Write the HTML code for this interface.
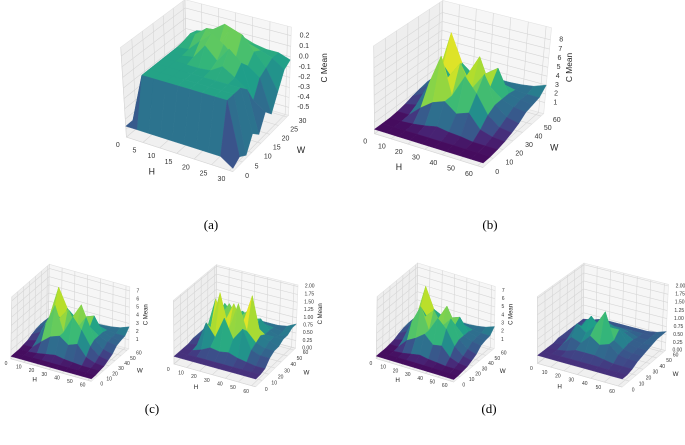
<!DOCTYPE html>
<html><head><meta charset="utf-8">
<style>
html,body{margin:0;padding:0;background:#fff;}
svg{display:block;font-family:"Liberation Sans",sans-serif;}
.cap{font-family:"Liberation Serif",serif;}
</style></head>
<body>
<svg id="fig" width="685" height="445" viewBox="0 0 685 445" xmlns="http://www.w3.org/2000/svg">
<text class="cap" x="211" y="229" font-size="13" text-anchor="middle">(a)</text>
<text class="cap" x="490" y="229" font-size="13" text-anchor="middle">(b)</text>
<text class="cap" x="152" y="413" font-size="13" text-anchor="middle">(c)</text>
<text class="cap" x="489" y="413" font-size="13" text-anchor="middle">(d)</text>
</svg>
<script>
// ---- data: C Mean height grids (rows = W index, cols = H index) ----
const gridA = [
[-0.47,-0.47,-0.47,-0.47,-0.47,-0.47,-0.47,-0.47,-0.47,-0.55],
[-0.47,0.0,0.0,0.0,0.0,0.0,0.0,0.0,0.0,-0.5],
[-0.47,0.0,0.0,0.0,0.0,0.0,0.0,0.0,0.0,-0.55],
[-0.47,0.0,0.0,0.0,0.0,0.0,0.0,0.0,0.0,-0.4],
[-0.47,0.0,0.0,0.0,0.0,0.01,0.08,0.01,-0.07,-0.47],
[-0.47,0.0,0.0,0.02,0.16,0.05,0.19,0.09,-0.23,-0.31],
[-0.47,0.0,0.01,0.12,0.22,0.15,0.05,0.01,-0.07,-0.39],
[-0.47,0.01,0.1,0.19,0.05,0.25,0.22,0.09,-0.03,-0.23],
[-0.47,0.03,0.07,0.13,0.21,0.17,0.09,0.05,0.01,-0.07],
[-0.47,0.01,0.03,0.05,0.09,0.07,0.03,0.01,0.01,-0.03]];
const gridB = [
[0.2,0.2,0.2,0.2,0.2,0.2,0.2,0.2,0.2,0.2],
[0.2,0.2,0.2,0.2,0.2,0.2,0.2,0.2,0.2,0.2],
[0.2,0.2,0.3,0.5,0.8,0.6,0.5,0.3,0.3,0.3],
[0.3,0.3,1.5,2.5,3.0,2.0,2.5,1.0,0.6,0.5],
[0.5,0.8,3.5,7.0,3.0,5.5,4.0,2.0,1.0,0.8],
[0.8,1.5,2.5,4.0,6.0,3.5,5.5,2.5,1.5,1.2],
[1.0,2.0,4.5,3.0,4.0,6.5,3.5,2.5,2.0,1.8],
[1.2,2.5,7.5,4.5,3.5,4.0,5.0,2.5,2.2,2.0],
[1.2,2.2,3.0,3.0,2.8,2.8,2.6,2.3,2.2,2.2],
[1.0,2.0,2.2,2.2,2.2,2.2,2.2,2.3,2.5,3.0]];
const gridC1 = [
[0.2,0.2,0.2,0.2,0.2,0.2,0.2,0.2,0.2,0.2],
[0.2,0.2,0.2,0.2,0.2,0.2,0.2,0.2,0.2,0.2],
[0.2,0.2,0.3,0.5,0.7,0.5,0.4,0.3,0.3,0.3],
[0.3,0.3,1.3,2.2,2.6,1.8,2.2,0.9,0.5,0.4],
[0.4,0.7,3.0,5.6,2.6,4.8,3.5,1.8,0.9,0.7],
[0.7,1.3,2.2,3.5,5.0,3.0,4.6,2.2,1.3,1.0],
[0.9,1.8,3.9,2.6,3.5,5.4,3.0,2.2,1.8,1.6],
[1.0,2.2,6.2,3.9,3.0,3.5,3.9,2.2,1.9,1.8],
[1.0,1.9,2.6,2.6,2.4,2.4,2.3,2.0,1.9,1.9],
[0.9,1.8,1.9,1.9,1.9,1.9,1.9,2.0,2.2,2.6]];
const gridC2 = [
[0.25,0.25,0.25,0.25,0.25,0.25,0.25,0.25,0.25,0.25],
[0.25,0.25,0.25,0.25,0.25,0.25,0.25,0.25,0.25,0.25],
[0.25,0.25,0.35,0.5,0.45,0.5,0.4,0.35,0.3,0.3],
[0.25,0.3,1.1,0.7,1.4,0.8,1.2,0.6,0.5,0.5],
[0.3,0.4,0.8,2.0,0.9,1.8,1.0,0.7,0.6,0.6],
[0.3,0.5,1.6,0.9,1.6,1.0,2.0,0.8,0.7,0.6],
[0.3,0.6,0.9,1.4,1.0,1.3,0.9,0.7,0.7,0.7],
[0.3,0.6,1.2,0.9,1.1,0.9,1.0,0.7,0.6,0.7],
[0.3,0.55,0.7,0.7,0.7,0.7,0.7,0.65,0.6,0.8],
[0.3,0.5,0.6,0.6,0.6,0.6,0.6,0.6,0.65,0.8]];
const gridD1 = [
[0.2,0.2,0.2,0.2,0.2,0.2,0.2,0.2,0.2,0.2],
[0.2,0.2,0.2,0.2,0.2,0.2,0.2,0.2,0.2,0.2],
[0.2,0.2,0.3,0.5,0.7,0.5,0.4,0.3,0.3,0.3],
[0.3,0.3,1.4,2.0,2.8,1.8,2.0,0.9,0.5,0.4],
[0.4,0.7,3.2,5.4,2.8,4.6,3.6,1.8,0.9,0.7],
[0.7,1.3,2.0,3.7,4.8,3.2,4.4,2.2,1.3,1.0],
[0.9,1.8,4.1,2.8,3.3,5.2,3.2,2.2,1.8,1.6],
[1.0,2.2,6.2,3.7,3.2,3.3,3.7,2.2,1.9,1.8],
[1.0,1.9,2.6,2.6,2.4,2.4,2.3,2.0,1.9,1.9],
[0.9,1.8,1.9,1.9,1.9,1.9,1.9,2.0,2.2,2.6]];
const gridD2 = [
[0.25,0.25,0.25,0.25,0.25,0.25,0.25,0.25,0.25,0.25],
[0.25,0.25,0.25,0.25,0.25,0.25,0.25,0.25,0.25,0.25],
[0.25,0.25,0.3,0.4,0.4,0.4,0.35,0.3,0.3,0.3],
[0.25,0.3,0.6,0.5,0.8,0.6,0.7,0.45,0.4,0.4],
[0.3,0.35,0.9,0.7,1.0,1.5,0.7,0.5,0.45,0.45],
[0.3,0.4,0.7,1.1,0.8,0.9,0.9,0.55,0.5,0.5],
[0.3,0.4,0.8,0.7,0.9,0.8,0.7,0.55,0.5,0.55],
[0.3,0.45,0.6,0.65,0.6,0.65,0.6,0.5,0.5,0.6],
[0.3,0.4,0.5,0.5,0.5,0.5,0.5,0.5,0.5,0.6],
[0.3,0.35,0.45,0.45,0.45,0.45,0.45,0.45,0.5,0.6]];
// ---- tick labels ----
const ticksHA = [0,5,10,15,20,25,30];
const ticksHB = [0,10,20,30,40,50,60];
const ticksZA = [-0.5,-0.4,-0.3,-0.2,-0.1,0.0,0.1,0.2];
const ticksZB = [1,2,3,4,5,6,7,8];
const ticksZC = [1,2,3,4,5,6,7];
const ticksZC2 = [0.00,0.25,0.50,0.75,1.00,1.25,1.50,1.75,2.00];

const NS="http://www.w3.org/2000/svg";
const svg=document.getElementById('fig');
function mk(tag,attrs,parent){const e=document.createElementNS(NS,tag);for(const k in attrs)e.setAttribute(k,attrs[k]);(parent||svg).appendChild(e);return e;}
const VIR=[[68,1,84],[72,40,120],[62,74,137],[49,104,142],[38,130,142],[31,158,137],[53,183,121],[110,206,88],[181,222,43],[253,231,37]];
function viridis(t){t=Math.max(0,Math.min(1,t))*(VIR.length-1);const i=Math.min(VIR.length-2,Math.floor(t)),f=t-i;const a=VIR[i],b=VIR[i+1];return 'rgb('+[0,1,2].map(k=>Math.round(a[k]+(b[k]-a[k])*f)).join(',')+')';}

function solve(A,b){const n=b.length;A=A.map((r,i)=>r.concat([b[i]]));
  for(let i=0;i<n;i++){let p=i;for(let r=i+1;r<n;r++)if(Math.abs(A[r][i])>Math.abs(A[p][i]))p=r;[A[i],A[p]]=[A[p],A[i]];
    for(let r=0;r<n;r++){if(r===i)continue;const f=A[r][i]/A[i][i];for(let c=i;c<=n;c++)A[r][c]-=f*A[i][c];}}
  return A.map((r,i)=>r[n]/r[i]);}
function depthF(u,v,w,k){const d=0.75*(v-0.5)-0.433*(u-0.5)-0.5*(w-0.5);return 1/(1+k*d);}
function fitProj(cal){
  let best=null;
  for(let k=0;k<=1.2001;k+=0.05){
    let err=0;const sol=[];
    for(const axis of [3,4]){
      const rows=cal.map(c=>{const f=depthF(c[0],c[1],c[2],k);return [1,f*(c[0]-0.5),f*(c[1]-0.5),f*(c[2]-0.5)];});
      const AtA=[0,1,2,3].map(i=>[0,1,2,3].map(j=>rows.reduce((s,r)=>s+r[i]*r[j],0)));
      const Atb=[0,1,2,3].map(i=>rows.reduce((s,r,n)=>s+r[i]*cal[n][axis],0));
      const p=solve(AtA,Atb);sol.push(p);
      rows.forEach((r,n)=>{const e=r[0]*p[0]+r[1]*p[1]+r[2]*p[2]+r[3]*p[3]-cal[n][axis];err+=e*e;});
    }
    if(!best||err<best.err)best={err,k,sx:sol[0],sy:sol[1]};
  }
  return (u,v,w)=>{const f=depthF(u,v,w,best.k);const a=u-0.5,b=v-0.5,c=w-0.5;
    return [best.sx[0]+f*(a*best.sx[1]+b*best.sx[2]+c*best.sx[3]), best.sy[0]+f*(a*best.sy[1]+b*best.sy[2]+c*best.sy[3])];};
}

function panel(c){
  const g=mk('g',{});
  
  
  const P=fitProj(c.cal);
  const zN=z=>(z-c.zmin)/(c.zmax-c.zmin);
  const hN=h=>h/c.hmax;
  const pts=a=>a.map(p=>p[0].toFixed(1)+','+p[1].toFixed(1)).join(' ');
  mk('polygon',{points:pts([P(0,0,0),P(1,0,0),P(1,1,0),P(0,1,0)]),fill:'#f0f0f0',stroke:'#e2e2e2','stroke-width':0.6,},g);
  mk('polygon',{points:pts([P(0,1,0),P(1,1,0),P(1,1,1),P(0,1,1)]),fill:'#f6f6f6',stroke:'#e2e2e2','stroke-width':0.6,},g);
  mk('polygon',{points:pts([P(0,0,0),P(0,1,0),P(0,1,1),P(0,0,1)]),fill:'#eeeeee',stroke:'#e2e2e2','stroke-width':0.6,},g);
  const gl={stroke:'#d6d6d6','stroke-width':0.6,fill:'none'};
  c.ticksH.forEach(t=>{const u=hN(t);
    mk('polyline',Object.assign({points:pts([P(u,0,0),P(u,1,0),P(u,1,1)])},gl),g);
    mk('polyline',Object.assign({points:pts([P(1,u,0),P(0,u,0),P(0,u,1)])},gl),g);});
  c.ticksZ.forEach(t=>{const w=zN(t);mk('polyline',Object.assign({points:pts([P(0,0,w),P(0,1,w),P(1,1,w)])},gl),g);});
  const G=c.grid,n=G.length,m=G[0].length;const quads=[];
  for(let i=0;i<n-1;i++)for(let j=0;j<m-1;j++){
    const v0=i/(n-1),v1=(i+1)/(n-1),u0=j/(m-1),u1=(j+1)/(m-1);
    const z=[G[i][j],G[i][j+1],G[i+1][j+1],G[i+1][j]];
    const avg=(z[0]+z[1]+z[2]+z[3])/4, mx=Math.max(...z);
    const cv=avg*(1-c.mix)+mx*c.mix;
    quads.push({d:(v0+v1)/2-(u0+u1)/2,p:[P(u0,v0,zN(z[0])),P(u1,v0,zN(z[1])),P(u1,v1,zN(z[2])),P(u0,v1,zN(z[3]))],col:viridis((cv-c.cmin)/(c.cmax-c.cmin))});
  }
  quads.sort((a,b)=>b.d-a.d);
  quads.forEach(q=>{const e=mk('polygon',{points:pts(q.p),fill:q.col,stroke:q.col,'stroke-width':0.4},g);
    
    });
  const fs=c.fs;
  c.ticksH.forEach(t=>{const p=P(hN(t),-0.13,0);const e=mk('text',{x:p[0],y:p[1]+fs*0.4,'font-size':fs,'text-anchor':'middle',fill:'#333'},g);e.textContent=t;
    
    const q=P(1.1,hN(t),0);const e2=mk('text',{x:q[0]+1,y:q[1]+fs*0.4,'font-size':fs,'text-anchor':'start',fill:'#333'},g);e2.textContent=t;
    });
  c.ticksZ.forEach(t=>{const p=P(1.04,1.04,zN(t));const e=mk('text',{x:p[0]+2,y:p[1]+fs*0.35,'font-size':fs,'text-anchor':'start',fill:'#333'},g);e.textContent=c.zfmt(t);
    });
  let p=P(0.45,-0.33,0);let e=mk('text',{x:p[0],y:p[1]+fs*0.4,'font-size':fs*1.25,'text-anchor':'middle',fill:'#222'},g);e.textContent='H';
  
  p=P(1.32,0.5,0);e=mk('text',{x:p[0]+4,y:p[1],'font-size':fs*1.25,'text-anchor':'middle',fill:'#222'},g);e.textContent='W';
  
  p=P(1,1,0.55);const zx=p[0]+c.zlab,zy=p[1];e=mk('text',{x:zx,y:zy,'font-size':fs*1.2,'text-anchor':'middle',fill:'#222',transform:'rotate(-90 '+zx+' '+zy+')'},g);e.textContent='C Mean';
  
}
const f1=t=>t.toFixed(1), f0=t=>String(t), f2=t=>t.toFixed(2);
panel({name:'chart-a',grid:gridA,cal:[[0,0,0,125,137],[1,0,0,233,172],[1,1,0,290,115],[0,0,1,122,47],[0,1,1,185,0],[1,1,1,290,27]],zmin:-0.58,zmax:0.28,cmin:-0.55,cmax:0.4,mix:0.2,hmax:31,ticksH:ticksHA,ticksZ:ticksZA,zfmt:f1,fs:7,zlab:37});
panel({name:'chart-b',grid:gridB,cal:[[0,0,0,373,133],[1,0,0,485,167],[1,1,0,543,115],[0,0,1,373,47],[0,1,1,445,0],[1,1,1,550,27]],zmin:-0.3,zmax:9.3,cmin:0,cmax:6.5,mix:0.5,hmax:63,ticksH:ticksHB,ticksZ:ticksZB,zfmt:f0,fs:7,zlab:24});
panel({name:'chart-c-left',grid:gridC1,cal:[[0,0,0,13,355],[1,0,0,90,382],[1,1,0,128,352],[0,0,1,11,300],[0,1,1,48,265],[1,1,1,132,283]],zmin:-0.1,zmax:7.5,cmin:0,cmax:5.8,mix:0.5,hmax:63,ticksH:ticksHB,ticksZ:ticksZC,zfmt:f0,fs:5,zlab:18});
panel({name:'chart-c-right',grid:gridC2,cal:[[0,0,0,173,362],[1,0,0,257,387],[1,1,0,295,350],[0,0,1,173,302],[0,1,1,218,265],[1,1,1,297,283]],zmin:0,zmax:2.05,cmin:0,cmax:1.8,mix:0.5,hmax:63,ticksH:ticksHB,ticksZ:ticksZC2,zfmt:f2,fs:5,zlab:25});
panel({name:'chart-d-left',grid:gridD1,cal:[[0,0,0,378,355],[1,0,0,453,382],[1,1,0,493,352],[0,0,1,376,300],[0,1,1,417,263],[1,1,1,497,283]],zmin:-0.1,zmax:7.5,cmin:0,cmax:5.8,mix:0.5,hmax:63,ticksH:ticksHB,ticksZ:ticksZC,zfmt:f0,fs:5,zlab:18});
panel({name:'chart-d-right',grid:gridD2,cal:[[0,0,0,537,362],[1,0,0,623,387],[1,1,0,665,352],[0,0,1,537,298],[0,1,1,585,263],[1,1,1,668,283]],zmin:0,zmax:2.05,cmin:0,cmax:1.8,mix:0.5,hmax:63,ticksH:ticksHB,ticksZ:ticksZC2,zfmt:f2,fs:5,zlab:25});
</script>
</body></html>
